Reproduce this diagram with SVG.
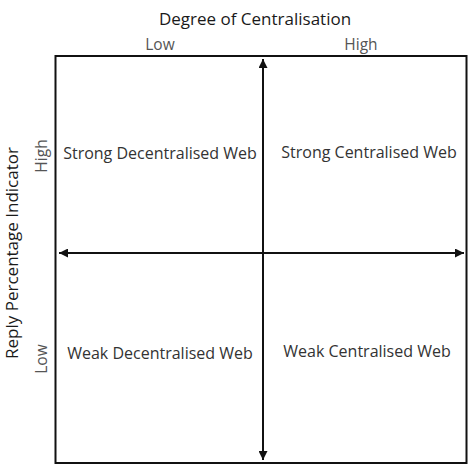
<svg xmlns="http://www.w3.org/2000/svg" width="474" height="474" viewBox="0 0 474 474">
<style>
.t{font-family:"Open Sans","Noto Sans",sans-serif;fill:#1a1a1a}
.l{font-family:"Open Sans","Noto Sans",sans-serif;fill:#555;font-size:15.5px}
.q{font-family:"Open Sans","Noto Sans",sans-serif;fill:#333;font-size:16px}
.ax{stroke:#111;stroke-width:2;fill:none}
</style>
<defs>
<marker id="ah" viewBox="0 0 10 10" refX="10" refY="5" markerWidth="10" markerHeight="9" markerUnits="userSpaceOnUse" orient="auto-start-reverse">
<path d="M0,0 L10,5 L0,10 z" fill="#111"/>
</marker>
</defs>
<rect x="0" y="0" width="474" height="474" fill="#fff"/>
<g id="frame"><rect x="55.5" y="56" width="411" height="407" fill="none" stroke="#111" stroke-width="2"/></g>
<g id="connectors">
<line class="ax" x1="263" y1="59" x2="263" y2="460" marker-start="url(#ah)" marker-end="url(#ah)"/>
<line class="ax" x1="59" y1="253" x2="464" y2="253" marker-start="url(#ah)" marker-end="url(#ah)"/>
</g>
<g id="title"><text class="t" x="255" y="25" font-size="17" text-anchor="middle">Degree of Centralisation</text></g>
<g id="xlow"><text class="l" x="160" y="50" text-anchor="middle">Low</text></g>
<g id="xhigh"><text class="l" x="361" y="50" text-anchor="middle">High</text></g>
<g id="ytitle"><text class="t" font-size="17" text-anchor="middle" transform="translate(18,253) rotate(-90)">Reply Percentage Indicator</text></g>
<g id="yhigh"><text class="l" text-anchor="middle" transform="translate(47,156) rotate(-90)">High</text></g>
<g id="ylow"><text class="l" text-anchor="middle" transform="translate(47,359) rotate(-90)">Low</text></g>
<g id="q1"><text class="q" x="160" y="159" text-anchor="middle">Strong Decentralised Web</text></g>
<g id="q2"><text class="q" x="369" y="158" text-anchor="middle">Strong Centralised Web</text></g>
<g id="q3"><text class="q" x="160" y="359" text-anchor="middle">Weak Decentralised Web</text></g>
<g id="q4"><text class="q" x="367" y="357" text-anchor="middle">Weak Centralised Web</text></g>
</svg>
